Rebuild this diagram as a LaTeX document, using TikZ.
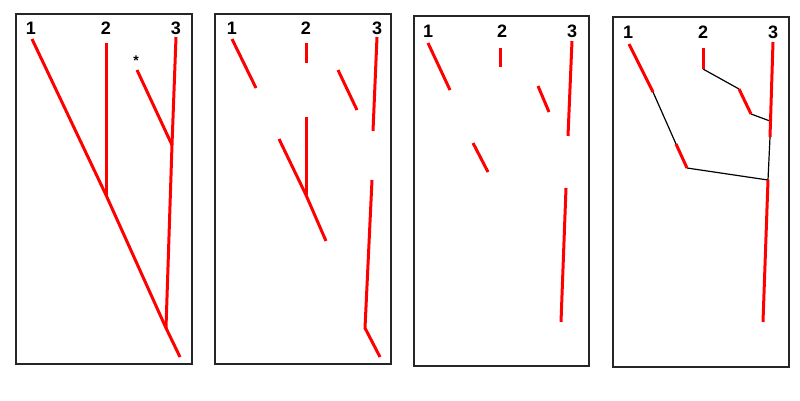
\documentclass[tikz,border=0pt]{standalone}
\usepackage{fontspec}
\setmainfont{Liberation Sans}
\usetikzlibrary{positioning}
\tikzstyle{panel} = [rectangle, draw=black!85, line width=1.6pt]
\tikzstyle{num} = [font=\bfseries\fontsize{18}{18}\selectfont, inner sep=0pt]
\tikzstyle{star} = [font=\bfseries\fontsize{14}{14}\selectfont, inner sep=0pt]
\tikzstyle{branch} = [draw=red, line width=3pt]
\tikzstyle{link} = [draw=black, line width=1.2pt]

\begin{document}
\begin{tikzpicture}[x=1pt, y=-1pt]
\useasboundingbox (0,0) rectangle (800,400);
\fill[white] (0,0) rectangle (800,400);

% panel 1: full tree
\draw[panel] (16,14) rectangle (192,364);
\node (p1n1) [num] at (31,28) {1};
\node (p1n2) [num] at (106,28) {2};
\node (p1n3) [num] at (176,28) {3};
\node (p1star) [star] at (136,61) {*};
\coordinate (p1a) at (32,39);
\coordinate (p1b) at (106,43);
\coordinate (p1c) at (176,37);
\coordinate (p1d) at (137,70);
\coordinate (p1e) at (172,145);
\coordinate (p1f) at (106,195);
\coordinate (p1g) at (166,328);
\coordinate (p1h) at (180,357);
\draw[branch] (p1a) -- (p1f) -- (p1g) -- (p1h);
\draw[branch] (p1b) -- (p1f);
\draw[branch] (p1c) -- (p1e) -- (p1g);
\draw[branch] (p1d) -- (p1e);

% panel 2: tree with gaps
\draw[panel] (215,14) rectangle (391,364);
\node (p2n1) [num] at (232,28) {1};
\node (p2n2) [num] at (306,28) {2};
\node (p2n3) [num] at (377,28) {3};
\coordinate (p2a) at (232,39);
\coordinate (p2b) at (256,88);
\coordinate (p2c) at (306,43);
\coordinate (p2d) at (306,63);
\coordinate (p2e) at (306,117);
\coordinate (p2f) at (306,195);
\coordinate (p2g) at (279,139);
\coordinate (p2h) at (326,241);
\coordinate (p2i) at (338,70);
\coordinate (p2j) at (357,110);
\coordinate (p2k) at (377,37);
\coordinate (p2l) at (373,131);
\coordinate (p2m) at (372,180);
\coordinate (p2n) at (365,328);
\coordinate (p2o) at (380,357);
\draw[branch] (p2a) -- (p2b);
\draw[branch] (p2c) -- (p2d);
\draw[branch] (p2e) -- (p2f);
\draw[branch] (p2g) -- (p2f) -- (p2h);
\draw[branch] (p2i) -- (p2j);
\draw[branch] (p2k) -- (p2l);
\draw[branch] (p2m) -- (p2n) -- (p2o);

% panel 3: fragments only
\draw[panel] (414,16) rectangle (589,366);
\node (p3n1) [num] at (428,31) {1};
\node (p3n2) [num] at (502,31) {2};
\node (p3n3) [num] at (572,31) {3};
\coordinate (p3a) at (428,43);
\coordinate (p3b) at (450,90);
\coordinate (p3c) at (500,48);
\coordinate (p3d) at (500,67);
\coordinate (p3e) at (538,86);
\coordinate (p3f) at (549,112);
\coordinate (p3g) at (572,41);
\coordinate (p3h) at (568,136);
\coordinate (p3i) at (473,143);
\coordinate (p3j) at (488,172);
\coordinate (p3k) at (566,188);
\coordinate (p3l) at (561,322);
\draw[branch] (p3a) -- (p3b);
\draw[branch] (p3c) -- (p3d);
\draw[branch] (p3e) -- (p3f);
\draw[branch] (p3g) -- (p3h);
\draw[branch] (p3i) -- (p3j);
\draw[branch] (p3k) -- (p3l);

% panel 4: fragments joined again
\draw[panel] (613,17) rectangle (789,367);
\node (p4n1) [num] at (628,32) {1};
\node (p4n2) [num] at (703,32) {2};
\node (p4n3) [num] at (773,32) {3};
\coordinate (p4a) at (629,44);
\coordinate (p4b) at (653,92);
\coordinate (p4c) at (676,144);
\coordinate (p4d) at (687,168);
\coordinate (p4e) at (703,48);
\coordinate (p4f) at (703,69);
\coordinate (p4g) at (739,89);
\coordinate (p4h) at (751,114);
\coordinate (p4i) at (773,42);
\coordinate (p4j) at (770,137);
\coordinate (p4k) at (770,121);
\coordinate (p4l) at (768,180);
\coordinate (p4m) at (763,322);
\draw[link] (p4b) -- (p4c);
\draw[link] (p4d) -- (p4l);
\draw[link] (p4f) -- (p4g);
\draw[link] (p4h) -- (p4k);
\draw[link] (p4j) -- (p4l);
\draw[branch] (p4a) -- (p4b);
\draw[branch] (p4c) -- (p4d);
\draw[branch] (p4e) -- (p4f);
\draw[branch] (p4g) -- (p4h);
\draw[branch] (p4i) -- (p4j);
\draw[branch] (p4l) -- (p4m);
\end{tikzpicture}
\end{document}
